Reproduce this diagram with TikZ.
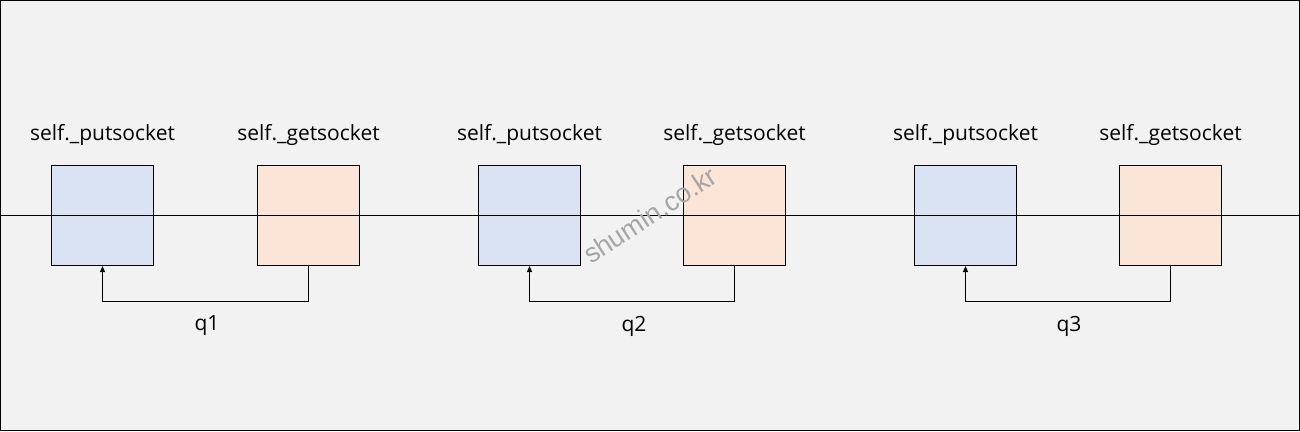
\documentclass[tikz,border=0pt]{standalone}
\usepackage{fontspec}
\setmainfont{Open Sans}
\newfontfamily\wmfont{Liberation Sans}
\usetikzlibrary{arrows.meta,calc}
\definecolor{bgc}{HTML}{F2F2F2}
\definecolor{putc}{HTML}{DAE3F3}
\definecolor{getc}{HTML}{FBE5D6}
\definecolor{wmc}{HTML}{A6A6A6}
\tikzset{
  sock/.style={draw=black, line width=1pt, minimum width=102pt, minimum height=100pt, inner sep=0pt, anchor=north west},
  putbox/.style={sock, fill=putc},
  getbox/.style={sock, fill=getc},
  lbl/.style={font=\fontsize{21}{25}\selectfont, inner sep=0pt},
  conn/.style={line width=0.9pt, -{Triangle[length=6pt,width=5pt]}},
}
\begin{document}
\begin{tikzpicture}[x=1pt,y=-1pt]
\useasboundingbox (0,0) rectangle (1300,431);
\fill[bgc] (0,0) rectangle (1300,431);
\draw[line width=1pt] (0.5,0.5) rectangle (1299.5,430.5);
\coordinate (la) at (0,215);
\coordinate (lb) at (1300,215);
\foreach \i/\px/\gx/\qx/\q in {1/51/257/207/q1, 2/478/683/634/q2, 3/914/1119/1069/q3}{
  \node[putbox] (p\i) at (\px,165) {};
  \node[getbox] (g\i) at (\gx,165) {};
  \node[lbl] (pl\i) at ($(p\i.north)+(0,-30)$) {self.\_putsocket};
  \node[lbl] (gl\i) at ($(g\i.north)+(0,-30)$) {self.\_getsocket};
  \draw[conn] (g\i.south) -- ++(0,35) -| (p\i.south);
  \node[lbl] (ql\i) at (\qx,326) {\q};
}
\draw[line width=1pt] (la) -- (lb);
\node[font=\wmfont\fontsize{27}{30}\selectfont, text=wmc, rotate=33, inner sep=0pt] (wm) at (650,215) {shumin.co.kr};
\end{tikzpicture}
\end{document}
